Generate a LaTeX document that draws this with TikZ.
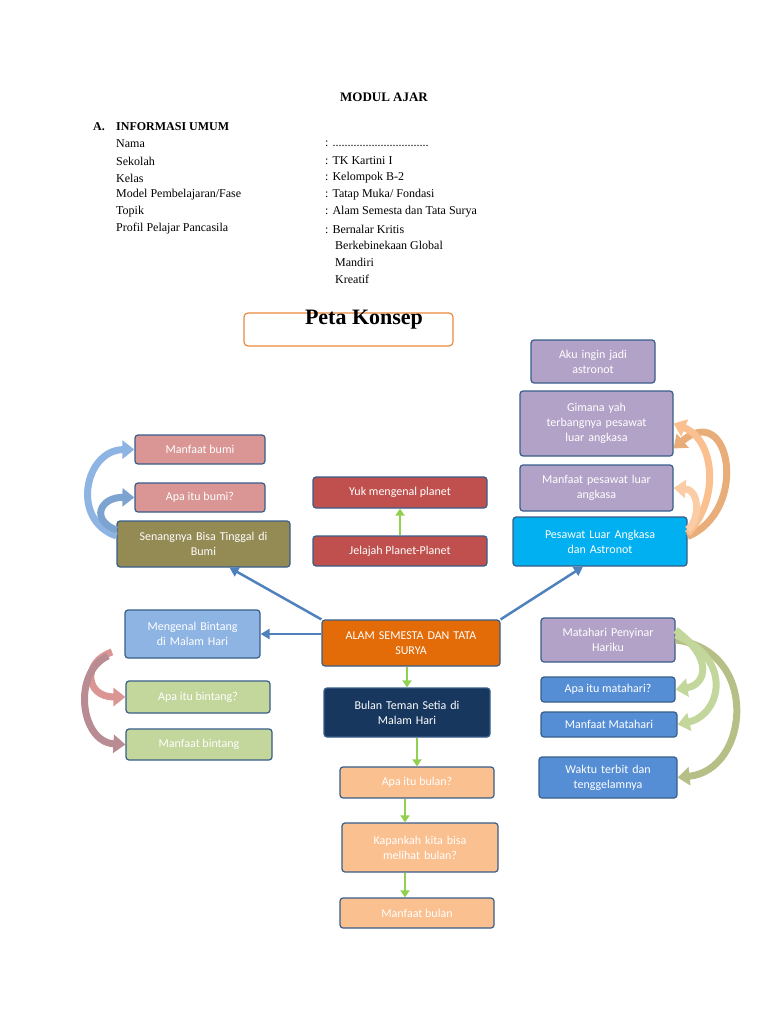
\documentclass[tikz,border=0pt]{standalone}
\usepackage{fontspec}
\setmainfont{Liberation Serif}
\newfontfamily\boxfont{Carlito}
\usetikzlibrary{arrows.meta}
\definecolor{purp}{HTML}{B3A2C7}
\definecolor{rim}{HTML}{385D8A}
\definecolor{sky}{HTML}{00B0F0}
\definecolor{rose}{HTML}{D99694}
\definecolor{olive}{HTML}{948A54}
\definecolor{brick}{HTML}{C0504D}
\definecolor{tang}{HTML}{E36C09}
\definecolor{lblue}{HTML}{8EB4E3}
\definecolor{lgreen}{HTML}{C3D69B}
\definecolor{mblue}{HTML}{558ED5}
\definecolor{navy}{HTML}{17375E}
\definecolor{peach}{HTML}{FAC090}
\definecolor{gshaft}{HTML}{92D050}
\definecolor{bshaft}{HTML}{4F81BD}
\tikzset{
  box/.style={draw=rim, line width=1.2pt, rounded corners=3pt, text=white, align=center,
    font=\boxfont\fontsize{12}{15}\selectfont, inner sep=2pt},
  info/.style={anchor=west, inner sep=0pt, font=\fontsize{12}{14}\selectfont},
  blue arrow/.style={draw=bshaft, line width=2.5pt, -{Triangle[width=10pt,length=9pt]}},
  green arrow/.style={draw=gshaft, line width=2.5pt, -{Triangle[width=9pt,length=7pt]}},
  bend arrow/.style={line width=7pt, -{Triangle[width=18pt,length=12pt]}}
}
\begin{document}
\begin{tikzpicture}[x=1pt,y=-1pt]
\useasboundingbox (0,0) rectangle (768,1024);

% header
\node (title) at (384,97) {\fontsize{13}{15}\selectfont\bfseries MODUL AJAR};
\node[info] (secA) at (93,127) {\bfseries A.};
\node[info] (infoA) at (116,127) {\bfseries INFORMASI UMUM};
\foreach \k/\l [count=\i] in {
  Nama/{: ................................},
  Sekolah/{: TK Kartini I},
  Kelas/{: Kelompok B-2},
  {Model Pembelajaran{/}Fase}/{: Tatap Muka/ Fondasi},
  Topik/{: Alam Semesta dan Tata Surya},
  Profil Pelajar Pancasila/{: Bernalar Kritis}}{
  \node[info] (key\i) at (116,127+17*\i) {\k};
  \node[info] (val\i) at (325,127+17*\i) {\l};
}
\node[info] (val7) at (335,245) {Berkebinekaan Global};
\node[info] (val8) at (335,262) {Mandiri};
\node[info] (val9) at (335,279) {Kreatif};

\node[draw=tang!80, line width=1.2pt, rounded corners=4pt, minimum width=209pt, minimum height=33pt] (peta) at (348.5,329.5) {};
\node[font=\fontsize{22}{24}\selectfont\bfseries] (petatxt) at (364,320) {Peta Konsep};

% boxes
\node[box, fill=purp, minimum width=124pt, minimum height=43pt, text width=110pt] (astro) at (593,361.5) {Aku ingin jadi\\astronot};
\node[box, fill=purp, minimum width=153pt, minimum height=65pt, text width=140pt] (gimana) at (596.5,423.5) {Gimana yah\\terbangnya pesawat\\luar angkasa};
\node[box, fill=purp, minimum width=153pt, minimum height=46pt, text width=145pt] (manpes) at (596.5,488) {Manfaat pesawat luar\\angkasa};
\node[box, fill=sky, minimum width=174pt, minimum height=49pt, text width=160pt] (pesawat) at (600,541.5) {Pesawat Luar Angkasa\\dan Astronot};

\node[box, fill=rose, minimum width=130pt, minimum height=29pt] (manbumi) at (200,449.5) {Manfaat bumi};
\node[box, fill=rose, minimum width=130pt, minimum height=29pt] (apabumi) at (200,497.5) {Apa itu bumi?};
\node[box, fill=olive, minimum width=173pt, minimum height=46pt, text width=165pt] (bumi) at (203.5,544) {Senangnya Bisa Tinggal di\\Bumi};

\node[box, fill=brick, minimum width=174pt, minimum height=31pt] (yuk) at (400,492.5) {Yuk mengenal planet};
\node[box, fill=brick, minimum width=174pt, minimum height=30pt] (jelajah) at (400,551) {Jelajah Planet-Planet};

\node[box, fill=tang, minimum width=178pt, minimum height=46pt, text width=170pt] (alam) at (411,643) {ALAM SEMESTA DAN TATA\\SURYA};

\node[box, fill=lblue, minimum width=135pt, minimum height=48pt, text width=128pt] (bintang) at (192.5,634) {Mengenal Bintang\\di Malam Hari};
\node[box, fill=lgreen, minimum width=144pt, minimum height=32pt] (apabin) at (198,697) {Apa itu bintang?};
\node[box, fill=lgreen, minimum width=146pt, minimum height=31pt] (manbin) at (199,744.5) {Manfaat bintang};

\node[box, fill=purp, minimum width=134pt, minimum height=44pt, text width=125pt] (matahari) at (608,640) {Matahari Penyinar\\Hariku};
\node[box, fill=mblue, minimum width=134pt, minimum height=25pt] (apamat) at (608,689.5) {Apa itu matahari?};
\node[box, fill=mblue, minimum width=136pt, minimum height=25pt] (manmat) at (609,724.5) {Manfaat Matahari};
\node[box, fill=mblue, minimum width=138pt, minimum height=41pt, text width=128pt] (waktu) at (608,777.5) {Waktu terbit dan\\tenggelamnya};

\node[box, fill=navy, minimum width=166pt, minimum height=49pt, text width=155pt] (bulan) at (407,712.5) {Bulan Teman Setia di\\Malam Hari};
\node[box, fill=peach, minimum width=154pt, minimum height=31pt] (apabul) at (417,782.5) {Apa itu bulan?};
\node[box, fill=peach, minimum width=156pt, minimum height=49pt, text width=145pt] (kapan) at (420,847.5) {Kapankah kita bisa\\melihat bulan?};
\node[box, fill=peach, minimum width=154pt, minimum height=30pt] (manbul) at (417,913) {Manfaat bulan};

% straight arrows
\draw[blue arrow] (alam.north west) -- ([xshift=26pt]bumi.south);
\draw[blue arrow] (alam.north east) -- ([xshift=-17pt]pesawat.south);
\draw[blue arrow] (alam.west |- bintang.east) -- (bintang.east);
\draw[green arrow] (jelajah) -- (yuk);
\draw[green arrow] (alam.south -| bulan.north) -- (bulan.north);
\draw[green arrow] (bulan.south -| apabul.north) -- (apabul.north);
\draw[green arrow] (apabul.south -| 405,0) -- (kapan.north -| 405,0);
\draw[green arrow] (kapan.south -| 405,0) -- (manbul.north -| 405,0);

% bent arrows
\draw[bend arrow, draw=lblue] ([yshift=8pt]bumi.west) .. controls (70,520) and (85,450) .. (manbumi.west);
\draw[bend arrow, draw=lblue!80!rim] ([yshift=14pt]bumi.west) .. controls (90,520) and (100,497) .. (apabumi.west);
\draw[bend arrow, draw=peach!70!brown] ([yshift=5pt]pesawat.east) .. controls (750,510) and (730,400) .. ([yshift=-25pt]gimana.east);
\draw[bend arrow, draw=peach] ([yshift=8pt]pesawat.east) .. controls (720,500) and (715,440) .. (gimana.east);
\draw[bend arrow, draw=peach!80!white] ([yshift=12pt]pesawat.east) .. controls (700,520) and (700,490) .. (manpes.east);
\draw[bend arrow, draw=rose] (112,652) .. controls (82,662) and (85,697) .. (apabin.west);
\draw[bend arrow, draw=rose!80!rim] (108,656) .. controls (72,672) and (80,742) .. (manbin.west);
\draw[bend arrow, draw=lgreen!70!olive] (matahari.east) .. controls (760,650) and (750,770) .. (waktu.east);
\draw[bend arrow, draw=lgreen] ([yshift=5pt]matahari.east) .. controls (735,660) and (720,715) .. (manmat.east);
\draw[bend arrow, draw=lgreen] ([yshift=10pt]matahari.east) .. controls (715,660) and (705,685) .. (apamat.east);
\end{tikzpicture}
\end{document}
